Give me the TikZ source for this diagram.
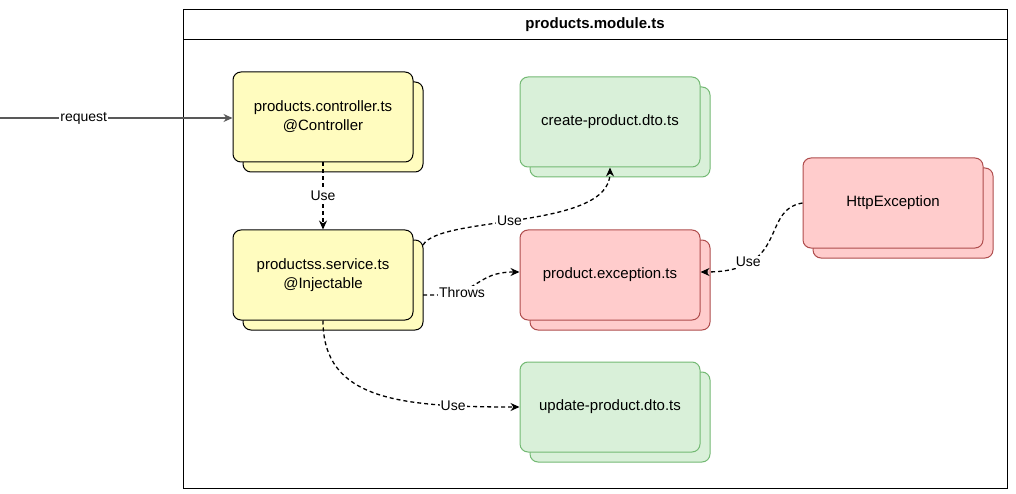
\documentclass[tikz,border=0pt]{standalone}
\usepackage{fontspec}
\setmainfont{Liberation Sans}
\usetikzlibrary{arrows.meta}
\begin{document}
\begin{tikzpicture}[x=1pt,y=-1pt,
 box/.style={draw,minimum width=180pt,minimum height=90pt,rounded corners=8pt,align=center,font=\fontsize{15}{19}\selectfont,line width=1pt},
 yel/.style={box,fill=yellow!25,draw=black},
 grn/.style={box,fill=green!60!black!15,draw=green!50!black!55},
 red/.style={box,fill=red!20,draw=red!55!black!70},
 dep/.style={draw,dash pattern=on 4pt off 3pt,line width=1.3pt,-{Stealth[length=9pt,width=8pt]}},
 lab/.style={fill=white,inner sep=1pt,font=\fontsize{14}{16}\selectfont}]
\useasboundingbox (0,0) rectangle (1016,494);
\draw[line width=1pt] (183,10) rectangle (1007,488);
\draw[line width=1pt] (183,40) -- (1007,40);
\node[font=\bfseries\fontsize{15}{18}\selectfont] (title) at (595,25) {products.module.ts};
\node[yel] (cb) at (333,127) {};
\node[yel] (c) at (323,117) {products.controller.ts\\@Controller};
\node[yel] (sb) at (333,285) {};
\node[yel] (s) at (323,275) {productss.service.ts\\@Injectable};
\node[grn] (cdb) at (620,132) {};
\node[grn] (cd) at (610,122) {create-product.dto.ts};
\node[red] (eb) at (620,285) {};
\node[red] (e) at (610,275) {product.exception.ts};
\node[grn] (udb) at (620,417) {};
\node[grn] (ud) at (610,407) {update-product.dto.ts};
\node[red] (hb) at (903,213) {};
\node[red] (h) at (893,203) {HttpException};
\coordinate (req) at (0,118);
\draw[line width=1.3pt,-{Stealth[length=9pt,width=8pt]},gray!70!black] (req) -- node[lab,pos=0.36,text=black]{request} (c.west|-req);
\draw[dep] (c.south) -- node[lab]{Use} (s.north);
\draw[dep] (423,245) .. controls (440,215) and (610,230) .. node[lab,pos=0.45]{Use} (cd.south);
\draw[dep] (423,295) -- (435,295) .. controls (480,295) and (475,272) .. (e.west|-0,272);
\node[lab] (thr) at (462,292) {Throws};
\draw[dep] (s.south) .. controls (323,400) and (400,407) .. node[lab,pos=0.8]{Use} (ud.west);
\draw[dep] (h.west) .. controls (760,210) and (790,272) .. node[lab,pos=0.75]{Use} (e.east|-0,272);
\end{tikzpicture}
\end{document}
